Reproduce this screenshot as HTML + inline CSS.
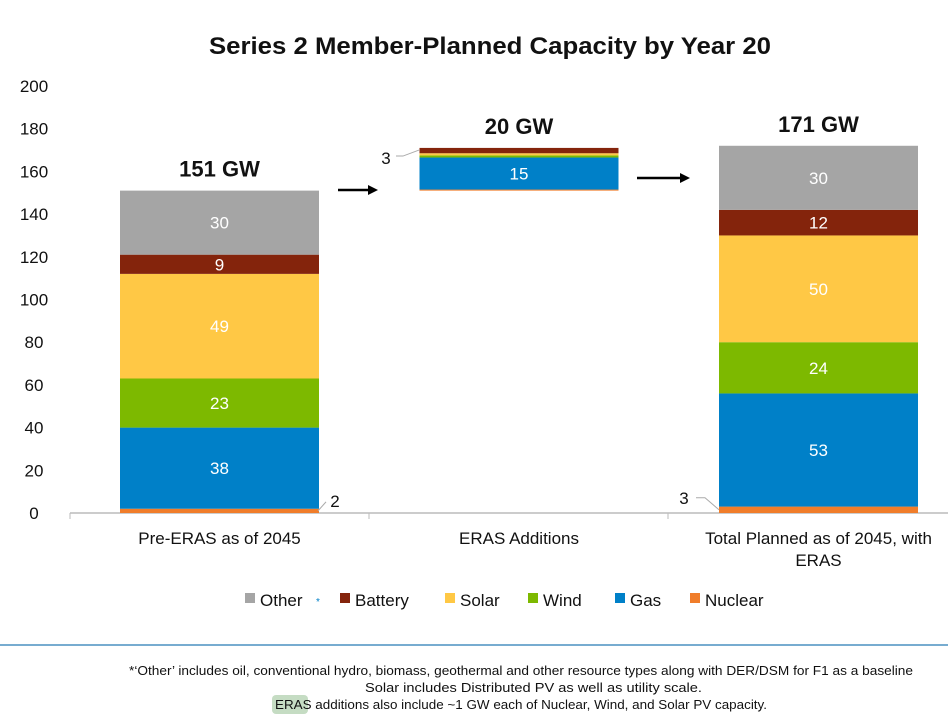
<!DOCTYPE html>
<html><head><meta charset="utf-8"><style>
body{margin:0;width:948px;height:715px;background:#fff;font-family:"Liberation Sans",sans-serif;overflow:hidden}
</style></head><body>
<svg id="c" width="948" height="715" style="position:absolute;left:0;top:0">
<text x="490" y="54" text-anchor="middle" font-size="24" font-weight="bold" fill="#111" textLength="562" lengthAdjust="spacingAndGlyphs">Series 2 Member-Planned Capacity by Year 20</text>
<g id="g"></g>
<line x1="0" y1="645" x2="948" y2="645" stroke="#4a90c0" stroke-width="1.5"/>
<rect x="272" y="695" width="36" height="19" rx="4" fill="#c5dcc3"/>
<g font-size="12.5" fill="#111">
<text x="129" y="675" textLength="784" lengthAdjust="spacingAndGlyphs">*‘Other’ includes oil, conventional hydro, biomass, geothermal and other resource types along with DER/DSM for F1 as a baseline</text>
<text x="365" y="692" textLength="337" lengthAdjust="spacingAndGlyphs">Solar includes Distributed PV as well as utility scale.</text>
<text x="275" y="709" textLength="492" lengthAdjust="spacingAndGlyphs">ERAS additions also include ~1 GW each of Nuclear, Wind, and Solar PV capacity.</text>
</g>
</svg>
<script>
const categories=["Pre-ERAS as of 2045","ERAS Additions","Total Planned as of 2045, with ERAS"];
const seriesNames=["Nuclear","Gas","Wind","Solar","Battery","Other"];
const nuclear=[2,0.5,3];
const gas=[38,15,53];
const wind=[23,1,24];
const solar=[49,1,50];
const battery=[9,2.5,12];
const other=[30,0,30];
const bases=[0,151,0];
const totalLabels=["151 GW","20 GW","171 GW"];
const yTicks=[0,20,40,60,80,100,120,140,160,180,200];
const colors=["#F07D2A","#0080C8","#7DB900","#FFC845","#84240C","#A5A5A5"];
const series=[nuclear,gas,wind,solar,battery,other];
const ns="http://www.w3.org/2000/svg",g=document.getElementById('g');
const y=v=>513-v*2.135;
const bx=i=>120+i*299.5, bw=199;
function mk(t,a,txt){const e=document.createElementNS(ns,t);for(const k in a)e.setAttribute(k,a[k]);if(txt!=null)e.textContent=txt;g.appendChild(e);return e;}
yTicks.forEach(t=>{const e=mk('text',{x:34,y:y(t)+6,'text-anchor':'middle','font-size':17,fill:'#111'},t);

});
const ax=mk('line',{x1:70,y1:513,x2:948,y2:513,stroke:'#bbb','stroke-width':1.5});


[70,369,668].forEach(x=>{const t=mk('line',{x1:x,y1:513,x2:x,y2:519,stroke:'#bbb'});

});
categories.forEach((c,i)=>{
 let acc=bases[i];
 series.forEach((s,k)=>{const v=s[i];if(v<=0)return;
  const r=mk('rect',{x:bx(i),y:y(acc+v),width:bw,height:v*2.135,fill:colors[k]});
  
  
  if(v>=5){const t=mk('text',{x:bx(i)+bw/2,y:y(acc+v/2)+6,'text-anchor':'middle','font-size':17,fill:'#fff'},v);
   
   }
  acc+=v;});
 const tl=mk('text',{x:bx(i)+bw/2,y:y(acc)-14,'text-anchor':'middle','font-size':22,'font-weight':'bold',fill:'#111'},totalLabels[i]);
 
 
 const lines=i==2?["Total Planned as of 2045, with","ERAS"]:[c];
 lines.forEach((l,j)=>{const t=mk('text',{x:bx(i)+bw/2,y:544+j*22,'text-anchor':'middle','font-size':17,fill:'#111'},l);
  
  });
});
function callout(pts,tx,ty,txt){const l=mk('polyline',{points:pts,fill:'none',stroke:'#aaa'});


const t=mk('text',{x:tx,y:ty,'text-anchor':'middle','font-size':17,fill:'#111'},txt);

}
callout(`318,${y(nuclear[0]/2)} 326,${y(nuclear[0]/2)-9}`,335,507,nuclear[0]);
callout(`419,${y(bases[1]+19)} 403,${y(bases[1]+19)+6} 396,${y(bases[1]+19)+6}`,386,164,3);
callout(`719,${y(nuclear[2]/2)} 705,${y(nuclear[2]/2)-12} 696,${y(nuclear[2]/2)-12}`,684,504,nuclear[2]);
[[338,368,190],[637,680,178]].forEach(a=>{const l=mk('line',{x1:a[0],y1:a[2],x2:a[1],y2:a[2],stroke:'#000','stroke-width':2.5});


const p=mk('polygon',{points:`${a[1]},${a[2]-5} ${a[1]+10},${a[2]} ${a[1]},${a[2]+5}`,fill:'#000'});

});
const leg=[["Other",245,"#A5A5A5"],["Battery",340,"#84240C"],["Solar",445,"#FFC845"],["Wind",528,"#7DB900"],["Gas",615,"#0080C8"],["Nuclear",690,"#F07D2A"]];
leg.forEach(l=>{const r=mk('rect',{x:l[1],y:593,width:10,height:10,fill:l[2]});


const t=mk('text',{x:l[1]+15,y:606,'font-size':17,fill:'#111'},l[0]);

});
const st=mk('text',{x:316,y:605,'font-size':10,fill:'#0080C8'},'*');


</script>
</body></html>
